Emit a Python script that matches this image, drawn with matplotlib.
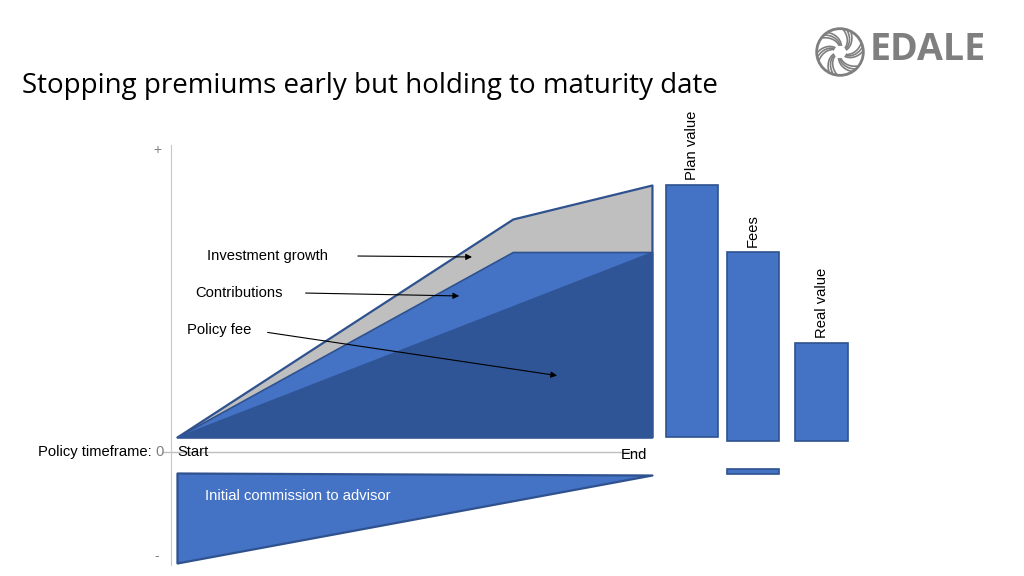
import numpy as np
import matplotlib.pyplot as plt
from matplotlib.patches import Circle

# linha do tempo da apólice (0 = início, 1 = fim)
time_points = [0.0, 0.707, 1.0]
base_level = 0.15
growth_top = [0.15, 2.33, 2.67]       # crescimento do investimento
contrib_top = [0.15, 2.0, 2.0]        # contribuições
fee_times = [0.0, 1.0]
fee_top = [0.15, 2.0]                 # taxa da apólice

# comissão inicial (abaixo de zero)
commission_top = [-0.21, -0.23]
commission_bottom = [-1.11, -0.23]

# barras no final
bar_labels = ['Plan value', 'Fees', 'Real value']
bar_x = [1.084, 1.213, 1.357]
bar_top = [2.67, 2.0, 1.09]
bar_bottom = [0.15, 0.11, 0.11]
fees_neg = [-0.17, -0.22]

dark_blue = '#2F5597'
mid_blue = '#4472C4'
edge_blue = '#2F528F'
grey_fill = '#BFBFBF'
fs = 10.6

plt.rcParams['font.family'] = ['Liberation Sans', 'DejaVu Sans']
fig = plt.figure(figsize=(10.24, 5.76), dpi=100)
ax = fig.add_axes([171 / 1024, 11 / 576, 689 / 1024, 420 / 576])
ax.set_xlim(-0.0126, 1.438)
ax.set_ylim(-1.13, 3.07)
for s in ['top', 'right', 'bottom']:
    ax.spines[s].set_visible(False)
ax.spines['left'].set_color('#C8C8C8')
ax.set_xticks([])
ax.set_yticks([])

# linha do zero
ax.plot([-0.03, 0.98], [0, 0], color='#BFBFBF', lw=1, clip_on=False, zorder=1)

# áreas empilhadas
ax.fill_between(time_points, base_level, growth_top, facecolor=grey_fill,
                edgecolor=edge_blue, lw=1.6, zorder=2)
ax.fill_between(time_points, base_level, contrib_top, facecolor=mid_blue,
                edgecolor=edge_blue, lw=1.2, zorder=3)
ax.fill_between(fee_times, base_level, fee_top, facecolor=dark_blue,
                edgecolor=dark_blue, lw=1, zorder=4)

# comissão inicial
ax.fill_between(fee_times, commission_bottom, commission_top, facecolor=mid_blue,
                edgecolor=edge_blue, lw=1.6, zorder=2)

# barras
heights = np.array(bar_top) - np.array(bar_bottom)
ax.bar(bar_x, heights, bottom=bar_bottom, width=0.11, color=mid_blue,
       edgecolor=edge_blue, lw=1.2, zorder=3)
ax.bar(bar_x[1], fees_neg[1] - fees_neg[0], bottom=fees_neg[0], width=0.11,
       color=mid_blue, edgecolor=edge_blue, lw=1.2, zorder=3)
for x, top, lab in zip(bar_x, bar_top, bar_labels):
    ax.text(x, top + 0.05, lab, rotation=90, ha='center', va='bottom', fontsize=fs)

# rótulos com setas
arrow = dict(arrowstyle='-|>', color='black', lw=0.8, mutation_scale=9)
ax.text(0.063, 1.96, 'Investment growth', fontsize=fs, va='center', zorder=6)
ax.annotate('', xy=(0.627, 1.95), xytext=(0.375, 1.96), arrowprops=arrow, zorder=6)
ax.text(0.038, 1.59, 'Contributions', fontsize=fs, va='center', zorder=6)
ax.annotate('', xy=(0.60, 1.56), xytext=(0.265, 1.59), arrowprops=arrow, zorder=6)
ax.text(0.021, 1.22, 'Policy fee', fontsize=fs, va='center', zorder=6)
ax.annotate('', xy=(0.806, 0.76), xytext=(0.185, 1.20), arrowprops=arrow, zorder=6)

ax.text(0.0, 0.0, 'Start', fontsize=fs, va='center', ha='left', zorder=6)
ax.text(0.989, -0.03, 'End', fontsize=fs, va='center', ha='right', zorder=6)
ax.text(0.059, -0.44, 'Initial commission to advisor', fontsize=fs, color='white',
        va='center', zorder=6)

ax.text(-0.053, 0.0, 'Policy timeframe:', fontsize=fs, ha='right', va='center')
ax.text(-0.036, 0.0, '0', fontsize=fs, ha='center', va='center', color='#808080')
ax.text(-0.042, 3.02, '+', fontsize=10, ha='center', va='center', color='#808080')
ax.text(-0.042, -1.04, '-', fontsize=10, ha='center', va='center', color='#808080')

# título
fig.text(22 / 1024, 1 - 86 / 576, 'Stopping premiums early but holding to maturity date',
         fontsize=20, family='Open Sans', va='center', ha='left')

# logotipo
logo_ax = fig.add_axes([812 / 1024, 1 - 80 / 576, 56 / 1024, 56 / 576])
logo_ax.set_xlim(-1.2, 1.2)
logo_ax.set_ylim(-1.2, 1.2)
logo_ax.set_aspect('equal')
logo_ax.axis('off')
logo_ax.add_patch(Circle((0, 0), 1.0, fill=False, ec='#7F7F7F', lw=2))
for ang in np.linspace(0, 2 * np.pi, 7)[:-1]:
    for off in [0.0, 0.18, 0.36]:
        t = np.linspace(0.3, 0.95, 20)
        a = ang + off + t * 1.1
        logo_ax.plot(t * np.cos(a), t * np.sin(a), color='#7F7F7F', lw=1.2)
fig.text(870 / 1024, 1 - 50 / 576, 'EDALE', fontsize=27, fontweight='bold',
         color='#7F7F7F', family='Open Sans', va='center', ha='left')

fig.savefig('out.png', dpi=100)
